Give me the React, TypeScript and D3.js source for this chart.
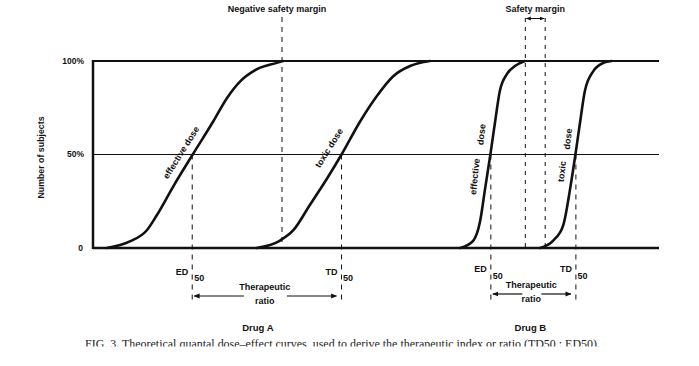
import React from "react";
import * as d3 from "d3";

const W = 699;
const H = 366;

// dose in arbitrary units, response in % of subjects responding
const doseEffA = [2.9, 7.8, 11.4, 13.5, 17.0, 21.1, 25.4, 28.3, 31.1, 34.6, 38.9, 40.2];
const pctEffA = [0, 3.5, 9.5, 17.5, 33, 50, 67.5, 80, 89, 95.5, 99, 100];
const doseToxA = [34.6, 39.6, 42.4, 45.9, 49.5, 52.6, 56.5, 60.0, 63.6, 67.1, 71.3];
const pctToxA = [0, 4, 9.5, 23, 37, 50, 67.5, 81, 92, 97.3, 100];
const doseEffB = [77.7, 80.5, 81.9, 83.0, 84.1, 85.1, 86.1, 87.6, 89.3, 91.4];
const pctEffB = [0, 4, 14, 32, 50, 67.5, 84, 93, 97.3, 100];
const doseToxB = [94.6, 97.4, 99.5, 101.0, 102.1, 103.1, 104.1, 105.9, 108.0, 109.8];
const pctToxB = [0, 4, 12, 32, 50, 67.5, 84, 94.6, 99, 100];

const ed50 = [21.0, 84.2];
const td50 = [52.6, 102.2];
const negMargin = 40;
const safety = [91.5, 95.7];
const yTicks = [0, 50, 100];
const yTickLabels = ["0", "50%", "100%"];
const drugs = ["Drug A", "Drug B"];

const lab = { fontFamily: "'Liberation Sans', Arial, sans-serif", fontWeight: 700, fontSize: 9, fill: "#111" } as const;

export default function App() {
  const x = d3.scaleLinear().domain([0, 120]).range([93, 660]);
  const y = d3.scaleLinear().domain([0, 100]).range([248, 61]);

  const line = d3
    .line<number>()
    .curve(d3.curveMonotoneX);

  const curve = (doses: number[], pcts: number[]) =>
    line.x((_, i) => x(doses[i])).y((_, i) => y(pcts[i]))(doses) || "";

  const curves = [
    curve(doseEffA, pctEffA),
    curve(doseToxA, pctToxA),
    curve(doseEffB, pctEffB),
    curve(doseToxB, pctToxB),
  ];

  const arrowY = [296, 294];
  const subBase = [[275, 281], [272, 279]];

  return (
    <svg width={W} height={H} style={{ position: "absolute", left: 0, top: 0, background: "#fff" }}>
      <defs>
        <marker id="ah" viewBox="0 0 10 10" refX="9" refY="5" markerWidth="5" markerHeight="5" orient="auto-start-reverse">
          <path d="M0,1 L10,5 L0,9 z" fill="#111" />
        </marker>
      </defs>

      {/* frame lines */}
      <line x1={x(0)} x2={x(0)} y1={y(100) - 1} y2={y(0) + 1} stroke="#111" strokeWidth={2.5} />
      {yTicks.map((t, i) => (
        <g key={t}>
          <line x1={x(0)} x2={x(120) - 1} y1={y(t)} y2={y(t)} stroke="#111" strokeWidth={t === 50 ? 1.2 : t === 0 ? 2.4 : 2} />
          <text x={t === 0 ? 83 : 84} y={y(t)} dy="0.35em" textAnchor="end" {...lab} fontSize={8.5}>
            {yTickLabels[i]}
          </text>
        </g>
      ))}
      <text transform={`translate(44,${y(50) + 3}) rotate(-90)`} textAnchor="middle" {...lab} fontSize={8.8}>
        Number of subjects
      </text>

      {/* safety margin guides */}
      <line x1={x(negMargin)} x2={x(negMargin)} y1={17} y2={y(0)} stroke="#111" strokeWidth={1} strokeDasharray="5,5" />
      <text x={x(negMargin) - 5} y={12} textAnchor="middle" {...lab}>Negative safety margin</text>
      {safety.map((s) => (
        <line key={s} x1={x(s)} x2={x(s)} y1={18} y2={y(0)} stroke="#111" strokeWidth={1} strokeDasharray="4,5" />
      ))}
      <line x1={x(safety[0]) + 1} x2={x(safety[1]) - 1} y1={18.5} y2={18.5} stroke="#111" strokeWidth={1}
        markerStart="url(#ah)" markerEnd="url(#ah)" />
      <text x={(x(safety[0]) + x(safety[1])) / 2} y={12} textAnchor="middle" {...lab}>Safety margin</text>

      {/* ED50 / TD50 drop lines */}
      {[...ed50, ...td50].map((d) => (
        <line key={d} x1={x(d)} x2={x(d)} y1={y(50)} y2={302} stroke="#111" strokeWidth={1} strokeDasharray="5,5" />
      ))}

      {/* dose-response curves */}
      {curves.map((p, i) => (
        <path key={i} d={p} fill="none" stroke="#111" strokeWidth={2.6} strokeLinecap="round" />
      ))}

      {/* curve labels */}
      <text transform={`translate(${x(ed50[0]) - 11},${y(50) - 2}) rotate(-58)`} textAnchor="middle" dy="3" {...lab}>effective dose</text>
      <text transform={`translate(${x(td50[0]) - 12.5},${y(50) - 6.5}) rotate(-58)`} textAnchor="middle" dy="3" {...lab}>toxic dose</text>
      <text transform={`translate(${x(ed50[1]) - 16},${y(50) + 22}) rotate(-84)`} textAnchor="middle" dy="3" {...lab}>effective</text>
      <text transform={`translate(${x(ed50[1]) - 9.5},${y(50) - 20}) rotate(-84)`} textAnchor="middle" dy="3" {...lab}>dose</text>
      <text transform={`translate(${x(td50[1]) - 14},${y(50) + 17}) rotate(-84)`} textAnchor="middle" dy="3" {...lab}>toxic</text>
      <text transform={`translate(${x(td50[1]) - 8},${y(50) - 15.5}) rotate(-84)`} textAnchor="middle" dy="3" {...lab}>dose</text>

      {/* ED50 / TD50 labels and therapeutic ratio */}
      {[0, 1].map((k) => {
        const xe = x(ed50[k]);
        const xt = x(td50[k]);
        const mid = (xe + xt) / 2;
        const half = k === 0 ? 23 : 11;
        return (
          <g key={k}>
            <text x={xe - 4} y={subBase[k][0]} textAnchor="end" {...lab}>ED</text>
            <text x={xe + 2} y={subBase[k][1]} {...lab}>50</text>
            <text x={xt - 4} y={subBase[k][0]} textAnchor="end" {...lab}>TD</text>
            <text x={xt + 1.5} y={subBase[k][1]} {...lab}>50</text>
            <text x={mid - 2} y={arrowY[k] - 6} textAnchor="middle" {...lab}>Therapeutic</text>
            <text x={mid - 2} y={arrowY[k] + 8} textAnchor="middle" {...lab}>ratio</text>
            <line x1={mid - half} x2={xe + 2} y1={arrowY[k]} y2={arrowY[k]} stroke="#111" strokeWidth={1.2} markerEnd="url(#ah)" />
            <line x1={mid + half - 3} x2={xt - 5} y1={arrowY[k]} y2={arrowY[k]} stroke="#111" strokeWidth={1.2} markerEnd="url(#ah)" />
            <text x={k === 0 ? mid - 9 : mid - 3} y={331} textAnchor="middle" {...lab} fontSize={9.5}>{drugs[k]}</text>
          </g>
        );
      })}

      {/* caption, cut off at the bottom as in the scan */}
      <text x={85} y={348} textLength={515} lengthAdjust="spacingAndGlyphs"
        style={{ fontFamily: "'Liberation Serif', 'Times New Roman', serif", fontSize: 11.5, fill: "#222" }}>
        FIG. 3. Theoretical quantal dose–effect curves, used to derive the therapeutic index or ratio (TD50 : ED50).
      </text>
      <rect x={0} y={346.5} width={W} height={H - 346.5} fill="#fff" />
    </svg>
  );
}
